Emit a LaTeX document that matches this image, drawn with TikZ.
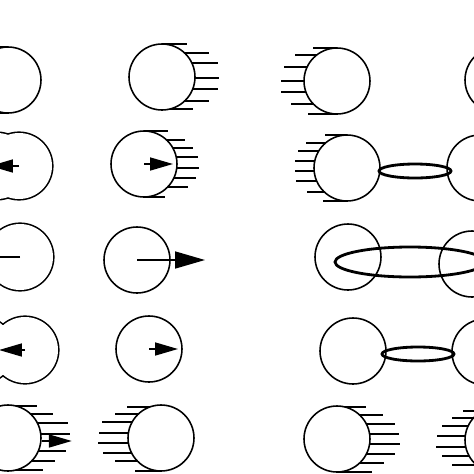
\documentclass[tikz,border=0pt]{standalone}
\usetikzlibrary{arrows.meta}

\tikzset{
  drop/.style={circle,draw,line width=0.9pt,minimum size=1.32cm,inner sep=0pt},
  streak/.style={line width=0.95pt},
  vel/.style={line width=0.95pt,-{Triangle[length=0.46cm,width=0.26cm]}},
  fastvel/.style={line width=0.95pt,-{Triangle[length=0.6cm,width=0.34cm]}},
  bridge/.style={line width=1.6pt}
}

% streak lines of a droplet: centre x, centre y, side (1 right, -1 left), list dy/end
\newcommand{\streaks}[4]{%
  \foreach \dy/\ex in {#4}
    \draw[streak] ({#1+(#3)*sqrt(max(1089-(\dy)*(\dy),0))},{#2+(\dy)})
      -- ({#1+(#3)*(\ex)},{#2+(\dy)});
}

\begin{document}
\begin{tikzpicture}[x=0.02cm,y=-0.02cm]
  \useasboundingbox (0,0) rectangle (474,474);
  \clip (0,0) rectangle (474,474);

  % row 1
  \node[drop] (a1) at (8,80)    {};
  \node[drop] (b1) at (162,77)  {};
  \node[drop] (c1) at (337,81)  {};
  \node[drop] (d1) at (498,80)  {};
  \streaks{8}{80}{-1}{-33/24,-26/42,-14/53,0/56,11/56,23/46,33/29}
  \streaks{162}{77}{1}{-33/25,-24/47,-14/56,1/57,12/56,24/47,32/31}
  \streaks{337}{81}{-1}{-33/24,-26/42,-14/53,0/56,11/56,23/46,33/29}

  % row 2
  \coordinate (a2)  at (19,166);
  \coordinate (a2b) at (-3,166);
  \node[drop] (b2) at (144,164) {};
  \node[drop] (c2) at (347,168) {};
  \node[drop] (d2) at (480,168) {};
  \streaks{144}{164}{1}{-33/24,-24/41,-16/49,-7/54,4/55,14/52,23/44,33/21}
  \streaks{347}{168}{-1}{-33/22,-25/41,-17/49,-7/52,3/52,13/51,24/40,33/24}
  \draw[bridge] (415,171) ellipse [x radius=36,y radius=7];

  % row 3
  \coordinate (a3)  at (20,257);
  \coordinate (a3b) at (-20,257);
  \node[drop] (b3) at (137,260) {};
  \node[drop] (c3) at (348,257) {};
  \node[drop] (d3) at (472,264) {};
  \draw[bridge] (410,262) ellipse [x radius=75,y radius=15];

  % row 4
  \coordinate (a4)  at (25,350);
  \coordinate (a4b) at (-19,350);
  \node[drop] (b4) at (149,349) {};
  \node[drop] (c4) at (353,351) {};
  \node[drop] (d4) at (485,352) {};
  \draw[bridge] (418,354) ellipse [x radius=36,y radius=7];

  % row 5
  \node[drop] (a5) at (8,438)   {};
  \node[drop] (b5) at (161,438) {};
  \node[drop] (c5) at (337,439) {};
  \node[drop] (d5) at (498,440) {};
  \streaks{8}{438}{1}{-32/29,-24/45,-15/60,-4/62,13/58,23/47,32/35}
  \streaks{161}{438}{-1}{-31/34,-24/46,-16/59,-5/62,5/63,15/58,23/46,33/26}
  \streaks{337}{439}{1}{-32/29,-24/46,-15/58,-5/62,5/63,15/58,24/47,33/35}
  \streaks{498}{440}{-1}{-29/35,-22/46,-14/56,-4/61,7/62,16/56,25/46}

  % merged droplets on the left
  \foreach \p in {a2,a2b,a3,a3b,a4,a4b}
    \draw[line width=1.8pt] (\p) circle (33);
  \fill[white] (a2) circle (33) (a2b) circle (33)
               (a3) circle (33) (a3b) circle (33)
               (a4) circle (33) (a4b) circle (33);

  % velocities
  \draw[vel]     (a2) -- ++(-29,0);
  \draw[vel]     (b2.center) -- ++(29,0);
  \draw[fastvel] (a3) -- ++(-68,0);
  \draw[fastvel] (b3.center) -- ++(68,0);
  \draw[vel]     (a4) -- ++(-26,0);
  \draw[vel]     (b4.center) -- ++(29,0);
  \draw[vel]     ([shift={(0,3)}]a5.east) -- ++(30,0);
\end{tikzpicture}
\end{document}
